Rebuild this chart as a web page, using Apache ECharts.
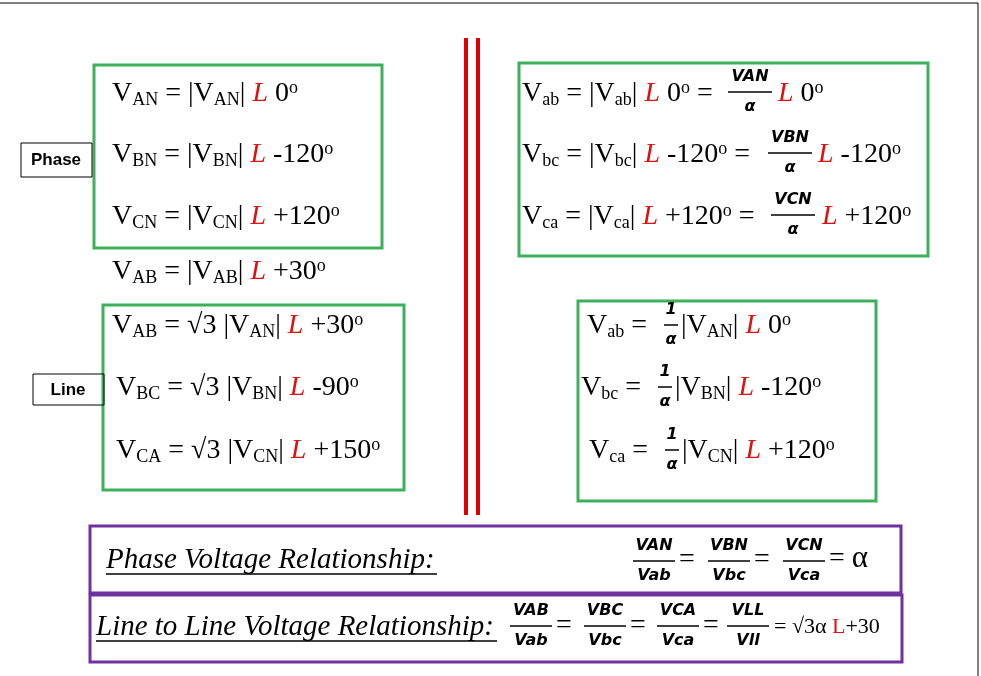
<!DOCTYPE html>
<html><head><meta charset="utf-8">
<script src="https://cdn.jsdelivr.net/npm/echarts@6/dist/echarts.min.js"></script>
<style>html,body{margin:0;background:#fff}#c{width:981px;height:676px}</style></head>
<body><div id="c"></div>
<script>
// content
const phaseLeft = [["AN","AN","0"],["BN","BN","-120"],["CN","CN","+120"]];
const lineLeft = [["AB","AN","+30"],["BC","BN","-90"],["CA","CN","+150"]];
const phaseRight = [["ab","0","VAN"],["bc","-120","VBN"],["ca","+120","VCN"]];
const lineRight = [["ab","AN","0"],["bc","BN","-120"],["ca","CN","+120"]];
const phaseRel = ["VAN/Vab","VBN/Vbc","VCN/Vca"];
const lineRel = ["VAB/Vab","VBC/Vbc","VCA/Vca","VLL/Vll"];

const G = [];
const SERIF = 'Liberation Serif';
const rich = {
  n:{fontFamily:SERIF,fontSize:28,fill:'#000',lineHeight:34},
  s:{fontFamily:SERIF,fontSize:18,fill:'#000',lineHeight:34,padding:[12,0,0,0]},
  p:{fontFamily:SERIF,fontSize:18,fill:'#000',lineHeight:34,padding:[0,0,12,0]},
  r:{fontFamily:SERIF,fontSize:28,fill:'#e01010',fontStyle:'italic',lineHeight:34}
};
function txt(x,y,t,r){G.push({type:'text',x:x,y:y,style:{text:t,rich:r||rich,verticalAlign:'middle',align:'left'}});}
function rect(x,y,w,h,color,lw){G.push({type:'rect',shape:{x:x,y:y,width:w,height:h},style:{fill:null,stroke:color,lineWidth:lw}});}
function line(x1,y1,x2,y2,color,lw){G.push({type:'line',shape:{x1,y1,x2,y2},style:{stroke:color,lineWidth:lw}});}
function frac(cx,cy,num,den,w){
  const f={fontFamily:'DejaVu Sans',fontSize:16,fontWeight:'bold',fontStyle:'italic',fill:'#000',align:'center',verticalAlign:'middle'};
  G.push({type:'text',x:cx,y:cy-15,style:Object.assign({text:num},f)});
  G.push({type:'text',x:cx,y:cy+15,style:Object.assign({text:den},f)});
  line(cx-w/2,cy,cx+w/2,cy,'#000',1.5);
}
// frame
line(0,3,978,3,'#000',1); line(978,3,978,676,'#000',1);
line(466,38,466,515,'#e00000',4); line(478,38,478,515,'#e00000',4);
const GREEN='#3cb05a', PURPLE='#7030a0';
rect(94,65,288,183,GREEN,3); rect(519,63,409,193,GREEN,3);
rect(103,305,301,185,GREEN,3); rect(578,301,298,200,GREEN,3);
rect(90,526,811,67,PURPLE,3); rect(90,595,812,67,PURPLE,3);
rect(21,143,71,34,'#000',1); rect(33,374,71,31,'#000',1);
G.push({type:'text',x:56,y:160,style:{text:'Phase',fontFamily:'Liberation Sans',fontWeight:'bold',fontSize:17,fill:'#000',align:'center',verticalAlign:'middle'}});
G.push({type:'text',x:68,y:390,style:{text:'Line',fontFamily:'Liberation Sans',fontWeight:'bold',fontSize:17,fill:'#000',align:'center',verticalAlign:'middle'}});

const ly=[94,155,217];
phaseLeft.forEach((r,i)=>txt(112,ly[i],`{n|V}{s|${r[0]}}{n| = |V}{s|${r[1]}}{n|| }{r|L}{n| ${r[2]}}{p|o}`));
txt(112,272,`{n|V}{s|AB}{n| = |V}{s|AB}{n|| }{r|L}{n| +30}{p|o}`);
const ly2=[326,388,451];
lineLeft.forEach((r,i)=>txt(i==0?112:116,ly2[i],`{n|V}{s|${r[0]}}{n| = √3 |V}{s|${r[1]}}{n|| }{r|L}{n| ${r[2]}}{p|o}`));

const fx=[750,790,793], tx=[778,818,822];
phaseRight.forEach((r,i)=>{
  txt(522,ly[i],`{n|V}{s|${r[0]}}{n| = |V}{s|${r[0]}}{n|| }{r|L}{n| ${r[1]}}{p|o}{n| =}`);
  frac(fx[i],ly[i]-2,r[2],'α',44);
  txt(tx[i],ly[i],`{r|L}{n| ${r[1]}}{p|o}`);
});
const bx=[587,581,589], bfx=[671,665,672];
lineRight.forEach((r,i)=>{
  txt(bx[i],ly2[i],`{n|V}{s|${r[0]}}{n| = }`);
  frac(bfx[i],ly2[i]-1,'1','α',14);
  txt(bfx[i]+10,ly2[i],`{n||V}{s|${r[1]}}{n|| }{r|L}{n| ${r[2]}}{p|o}`);
});

// relationships
const T={fontFamily:SERIF,fontStyle:'italic',fontSize:29,fill:'#000',verticalAlign:'middle'};
G.push({type:'text',x:106,y:560,style:Object.assign({text:'Phase Voltage Relationship:'},T)});
line(106,574,437,574,'#000',1.5);
const pfx=[654,729,804];
phaseRel.forEach((s,i)=>{const [a,b]=s.split('/');frac(pfx[i],561,a,b,42);if(i<2)txt(pfx[i]+25,560,'{n|=}');});
txt(829,559,'{n|= }{q|α}',Object.assign({q:{fontFamily:SERIF,fontSize:31,fill:'#000'}},rich));
G.push({type:'text',x:96,y:627,style:Object.assign({text:'Line to Line Voltage Relationship:'},T)});
line(96,641,497,641,'#000',1.5);
const lfx=[531,605,678,748];
lineRel.forEach((s,i)=>{const [a,b]=s.split('/');frac(lfx[i],626,a,b,42);if(i<3)txt(lfx[i]+25,626,'{n|=}');});
txt(774,627,'{n|= √3α }{r|L}{n|+30}',Object.assign({},rich,{n:Object.assign({},rich.n,{fontSize:22}),r:Object.assign({},rich.r,{fontSize:22,fontStyle:'normal'})}));

const chart=echarts.init(document.getElementById('c'));
chart.setOption({backgroundColor:'#fff',graphic:G});
</script></body></html>
